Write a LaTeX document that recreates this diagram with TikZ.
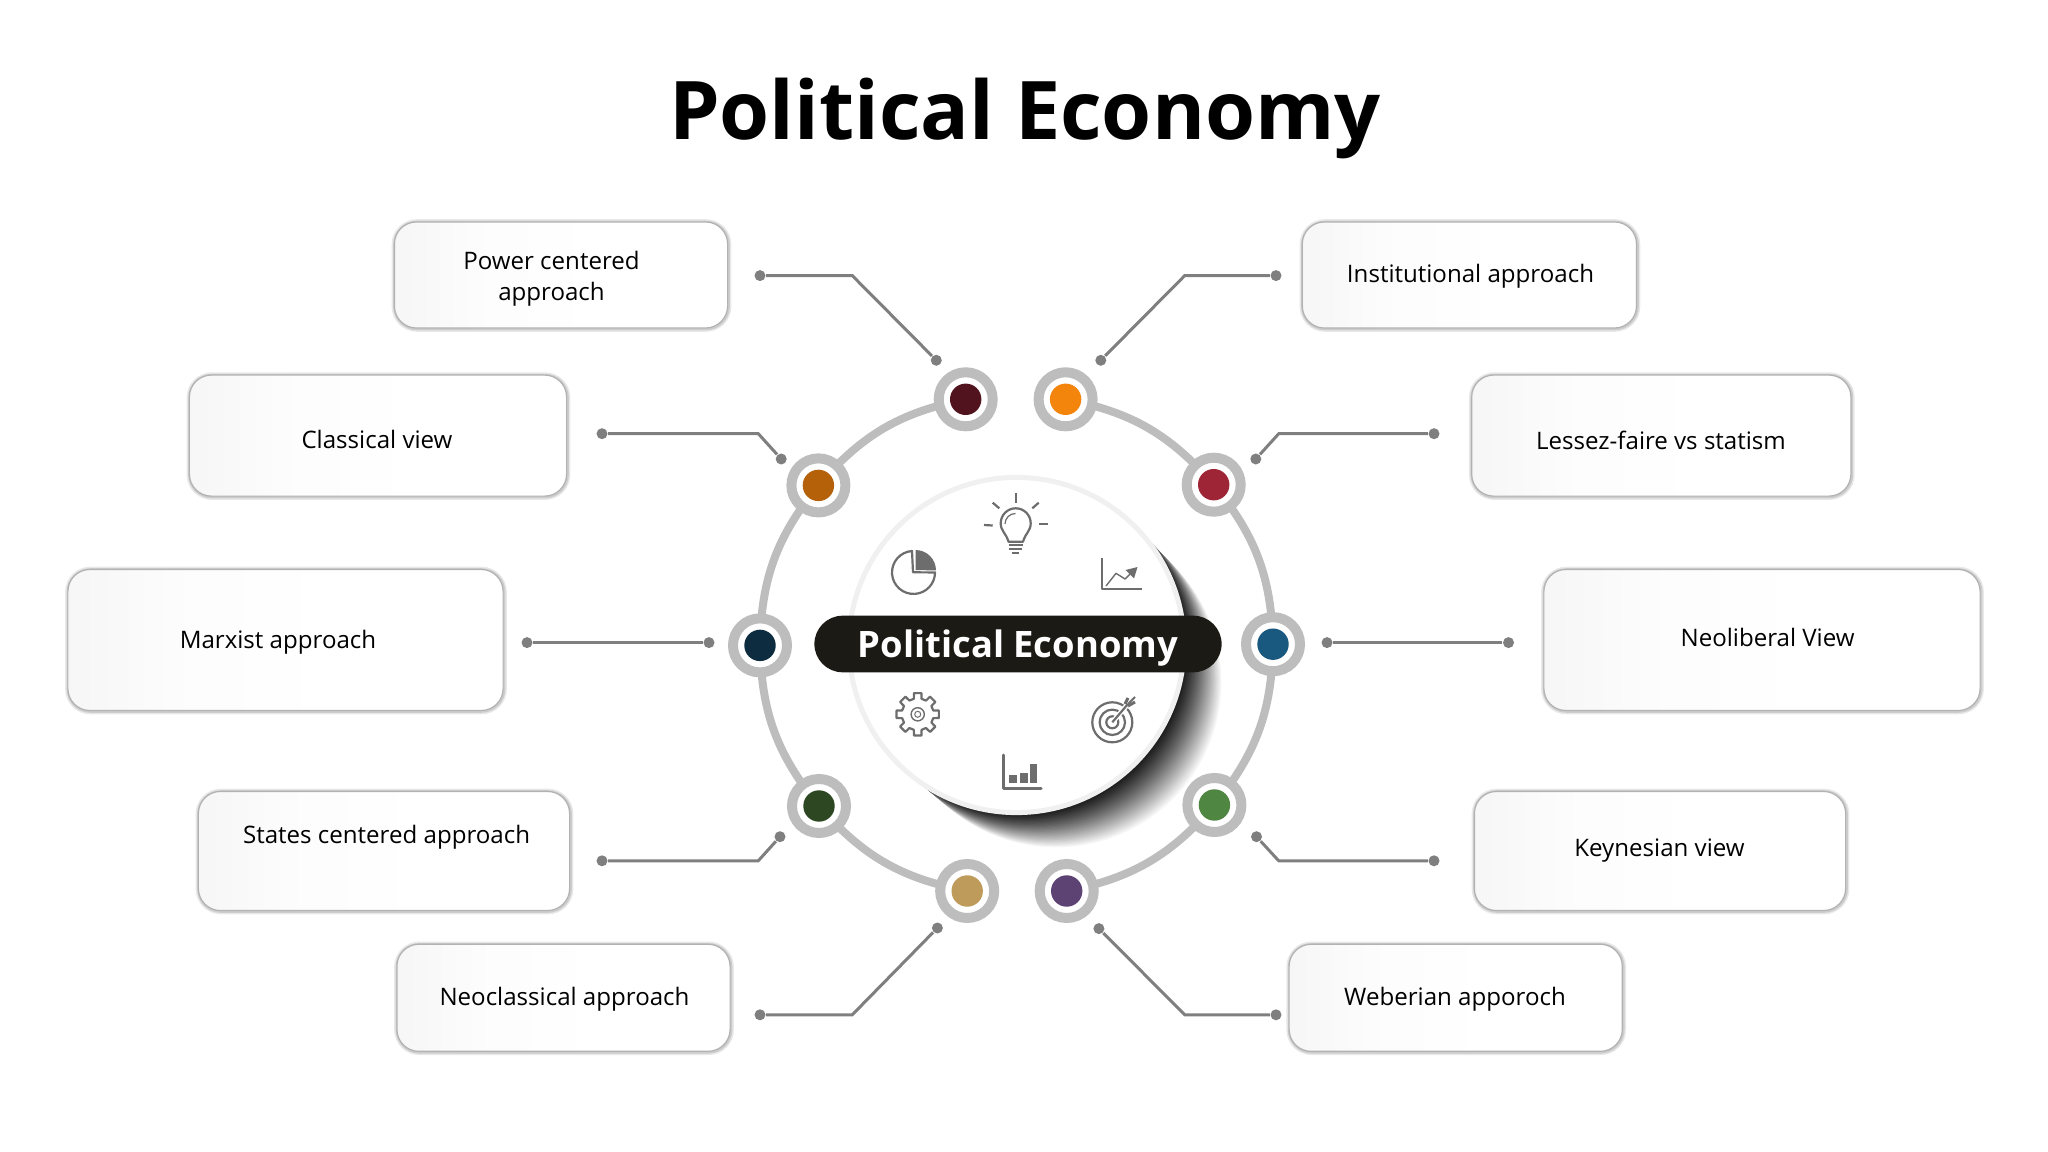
\documentclass[tikz,border=0pt]{standalone}
\usepackage{fontspec}
\setmainfont{Open Sans}
\usepackage{xcolor}
\usepackage{tikz}
\usetikzlibrary{
  positioning,
  calc,
  shapes.misc,
  backgrounds}
\definecolor{railgray}{HTML}{BDBDBD}
\definecolor{leadgray}{HTML}{7F7F7F}
\definecolor{icongray}{HTML}{6D6D6D}
\definecolor{bandblack}{HTML}{1C1A14}
\pgfdeclarehorizontalshading{cardfade}{100bp}{color(0bp)=(black!8); color(38bp)=(black!1); color(55bp)=(white); color(100bp)=(white)}
\tikzset{card/.style={rectangle,rounded corners=0.22cm,shading=cardfade,draw=black!30,line width=0.012cm,
           preaction={draw=black!9,line width=0.065cm,transform canvas={xshift=0.005cm,yshift=-0.005cm}},
           preaction={draw=black!20,line width=0.035cm,transform canvas={xshift=0.005cm,yshift=-0.005cm}}},
         cardtext/.style={align=center,inner sep=0pt,font=\fontsize{6.85pt}{8.9pt}\selectfont},
         ring/.style={circle,draw=railgray,fill=white,line width=0.10cm,inner sep=0pt,minimum size=0.54cm,
           path picture={\fill[#1] (path picture bounding box.center) circle (0.157cm);}},
         leaddot/.style={circle,fill=leadgray,inner sep=0pt,minimum size=0.11cm},
         lead/.style={draw=leadgray,line width=0.03cm},
         rail/.style={draw=railgray,line width=0.08cm},
         icon/.style={draw=icongray,line width=0.022cm,line join=round},
         iconfill/.style={fill=icongray}
        }

\begin{document}
\begin{tikzpicture}[x=0.01cm,y=-0.01cm]
    \useasboundingbox (0,0) rectangle (2048,1152);
    \node[inner sep=0pt,font=\fontsize{23pt}{28pt}\bfseries\selectfont] at (1025,118.5) (title){Political Economy};

    \node[card,minimum width=3.33cm,minimum height=1.06cm] at (561,275) (power){};
    \node[card,minimum width=3.77cm,minimum height=1.21cm] at (378,435.6) (classical){};
    \node[card,minimum width=4.35cm,minimum height=1.41cm] at (285.5,640) (marxist){};
    \node[card,minimum width=3.71cm,minimum height=1.19cm] at (384,851) (states){};
    \node[card,minimum width=3.33cm,minimum height=1.07cm] at (563.5,997.8) (neoclassical){};
    \node[card,minimum width=3.34cm,minimum height=1.06cm] at (1469.4,275) (institutional){};
    \node[card,minimum width=3.79cm,minimum height=1.21cm] at (1661.3,435.6) (lessez){};
    \node[card,minimum width=4.36cm,minimum height=1.41cm] at (1762,640) (neoliberal){};
    \node[card,minimum width=3.71cm,minimum height=1.19cm] at (1660,851) (keynesian){};
    \node[card,minimum width=3.33cm,minimum height=1.07cm] at (1455.7,997.8) (weberian){};

    \node[cardtext] at (551.5,278.6) (powertext){Power centered\\approach};
    \node[cardtext] at (377,439.5) (classicaltext){Classical view};
    \node[cardtext] at (278,642.6) (marxisttext){Marxist approach};
    \node[cardtext] at (386.6,837.6) (statestext){States centered approach};
    \node[cardtext] at (564.5,999.5) (neoclassicaltext){Neoclassical approach};
    \node[cardtext] at (1470.5,276.6) (institutionaltext){Institutional approach};
    \node[cardtext] at (1661,440) (lessezext){Lessez-faire vs statism};
    \node[cardtext] at (1767.6,637.5) (neoliberaltext){Neoliberal View};
    \node[cardtext] at (1659.5,851) (keynesiantext){Keynesian view};
    \node[cardtext] at (1455,999.5) (weberiantext){Weberian apporoch};

    \node[ring={fill={rgb,255:red,81;green,19;blue,29}}] at (965.7,399.3) (maroon){};
    \node[ring={fill={rgb,255:red,181;green,97;blue,10}}] at (818.4,485.4) (ochre){};
    \node[ring={fill={rgb,255:red,14;green,44;blue,64}}] at (760,645.4) (navy){};
    \node[ring={fill={rgb,255:red,45;green,71;blue,34}}] at (819,806) (forest){};
    \node[ring={fill={rgb,255:red,191;green,155;blue,91}}] at (967.2,891) (tan){};
    \node[ring={fill={rgb,255:red,243;green,133;blue,12}}] at (1065.6,399.3) (orange){};
    \node[ring={fill={rgb,255:red,158;green,37;blue,53}}] at (1213.7,484.7) (crimson){};
    \node[ring={fill={rgb,255:red,25;green,88;blue,127}}] at (1273,644.2) (teal){};
    \node[ring={fill={rgb,255:red,79;green,134;blue,65}}] at (1214.4,805) (leaf){};
    \node[ring={fill={rgb,255:red,92;green,67;blue,116}}] at (1066.7,891) (plum){};

    \begin{scope}[on background layer]
        \foreach \i [evaluate=\i as \p using 92-92*(\i/30)^1.15] in {30,29,...,0}
            \fill[black!\p!white] ($(1016.5,645)+(1.37*\i,1.28*\i)$) circle ({(168-\i*0.1)*0.01cm});
        \draw[rail] (maroon.center) to[bend right=19] (ochre.center);
        \draw[rail] (ochre.center) to[bend right=19] (navy.center);
        \draw[rail] (navy.center) to[bend right=19] (forest.center);
        \draw[rail] (forest.center) to[bend right=19] (tan.center);
        \draw[rail] (orange.center) to[bend left=19] (crimson.center);
        \draw[rail] (crimson.center) to[bend left=19] (teal.center);
        \draw[rail] (teal.center) to[bend left=19] (leaf.center);
        \draw[rail] (leaf.center) to[bend left=19] (plum.center);
    \end{scope}

    \node[circle,fill=white,draw=black!6,line width=0.05cm,inner sep=0pt,minimum size=3.35cm] at (1016.5,645) (disc){};
    \node[rounded rectangle,fill=bandblack,text=white,inner sep=0pt,minimum width=4.07cm,minimum height=0.566cm,
        font=\fontsize{10.35pt}{12pt}\bfseries\selectfont] at (1018,644) (band){\raisebox{-3.7pt}[0pt][0pt]{Political Economy}};

    \node[leaddot] at (760,275.6) (powerout){};
    \node[leaddot] at (936.3,360.3) (powerin){};
    \coordinate[right = 0.86cm of powerout] (powerbend);
    \node[leaddot] at (602,433.7) (classicalout){};
    \node[leaddot] at (781.2,459) (classicalin){};
    \coordinate[right = 1.50cm of classicalout] (classicalbend);
    \node[leaddot] at (527,642.6) (marxistout){};
    \node[leaddot] at (709,642.6) (marxistin){};
    \node[leaddot] at (602,860.8) (statesout){};
    \node[leaddot] at (780,836.7) (statesin){};
    \coordinate[right = 1.50cm of statesout] (statesbend);
    \node[leaddot] at (760,1014.8) (neoclassicalout){};
    \node[leaddot] at (937.4,928) (neoclassicalin){};
    \coordinate[right = 0.86cm of neoclassicalout] (neoclassicalbend);
    \node[leaddot] at (1276,275.6) (institutionalout){};
    \node[leaddot] at (1100.8,360.3) (institutionalin){};
    \coordinate[left = 0.85cm of institutionalout] (institutionalbend);
    \node[leaddot] at (1434,433.7) (lessezout){};
    \node[leaddot] at (1255.8,459) (lessezin){};
    \coordinate[left = 1.49cm of lessezout] (lessezbend);
    \node[leaddot] at (1508.5,642.6) (neoliberalout){};
    \node[leaddot] at (1327,642.6) (neoliberalin){};
    \node[leaddot] at (1434,860.8) (keynesianout){};
    \node[leaddot] at (1256.5,836.7) (keynesianin){};
    \coordinate[left = 1.49cm of keynesianout] (keynesianbend);
    \node[leaddot] at (1276,1014.8) (weberianout){};
    \node[leaddot] at (1098.9,928.6) (weberianin){};
    \coordinate[left = 0.85cm of weberianout] (weberianbend);

    \draw[lead] (powerout) -- (powerbend) -- (powerin);
    \draw[lead] (classicalout) -- (classicalbend) -- (classicalin);
    \draw[lead] (marxistout) -- (marxistin);
    \draw[lead] (statesout) -- (statesbend) -- (statesin);
    \draw[lead] (neoclassicalout) -- (neoclassicalbend) -- (neoclassicalin);
    \draw[lead] (institutionalout) -- (institutionalbend) -- (institutionalin);
    \draw[lead] (lessezout) -- (lessezbend) -- (lessezin);
    \draw[lead] (neoliberalout) -- (neoliberalin);
    \draw[lead] (keynesianout) -- (keynesianbend) -- (keynesianin);
    \draw[lead] (weberianout) -- (weberianbend) -- (weberianin);

    \draw[icon] (1008.5,541.7) .. controls (1006,533) and (1000.7,531) .. (1000.7,523.3) arc (180:360:15) .. controls (1030.7,531) and (1025.5,533) .. (1023,541.7) -- cycle;
    \draw[icon,line width=0.012cm] (1005,524) arc (180:270:10.5);
    \draw[icon] (1008.5,545) -- (1023,545);
    \draw[icon] (1009,549) -- (1022,549);
    \draw[icon] (1012,553) -- (1019,553);
    \draw[icon] (1015.7,493) -- (1015.7,502.7);
    \draw[icon] (992.7,502.7) -- (999.3,508.3);
    \draw[icon] (1038.7,502.7) -- (1032.3,508.3);
    \draw[icon] (984,525) -- (992.7,525.5);
    \draw[icon] (1039.3,524.3) -- (1048,524.3);

    \draw[icon] (912,551) arc (-94:-360:21.5) -- (913,572.3) -- cycle;
    \fill[iconfill] (915.5,550) arc (-90:0:20.5) -- (915.5,570) -- cycle;

    \draw[icon] (1101.7,558.3) -- (1101.7,589.3) -- (1142.3,589.3);
    \draw[icon,line width=0.014cm] (1106,586) -- (1116,573.3) -- (1125,579) -- (1133,571);
    \fill[iconfill] (1137.5,567) -- (1125.5,570) -- (1134,578.5) -- cycle;

    \draw[icon] (917.7,714.3) ++(-14:16)
        \foreach \a in {0,45,...,315}{ -- ($(917.7,714.3)+(\a-14:16)$) -- ($(917.7,714.3)+(\a-10:21.5)$) -- ($(917.7,714.3)+(\a+10:21.5)$) -- ($(917.7,714.3)+(\a+14:16)$)} -- cycle;
    \draw[icon,line width=0.014cm] (917.7,714.3) circle (0.066cm);
    \draw[icon,line width=0.01cm] (917.7,714.3) circle (0.03cm);

    \draw[icon] (1112.3,722.3) circle (0.20cm);
    \draw[icon] (1112.3,722.3) circle (0.127cm);
    \draw[icon] (1112.3,722.3) circle (0.06cm);
    \draw[icon,draw=white,line width=0.05cm] (1112.3,722.3) -- (1128,704);
    \draw[icon] (1112.3,722.3) -- (1128,704);
    \draw[icon,line width=0.03cm] (1125,704) -- (1128,698);
    \draw[icon,line width=0.03cm] (1128,706) -- (1135,702);
    \draw[icon,line width=0.018cm] (1128,704) -- (1135,697);

    \draw[icon,line width=0.03cm,line cap=round] (1003.3,755) -- (1003.3,788.3) -- (1041,788.3);
    \fill[iconfill] (1009.3,775) rectangle (1016.7,783.3);
    \fill[iconfill] (1020,773.3) rectangle (1027.7,783.3);
    \fill[iconfill] (1030,764) rectangle (1037.3,783.3);
\end{tikzpicture}
\end{document}
